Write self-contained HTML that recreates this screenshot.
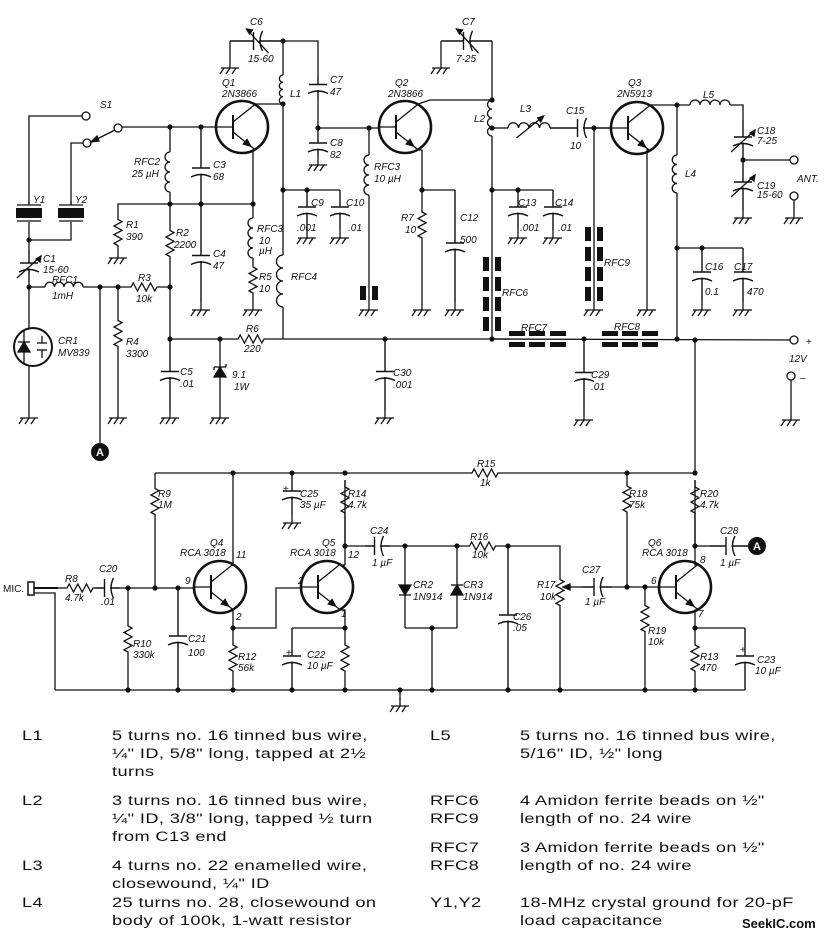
<!DOCTYPE html>
<html><head><meta charset="utf-8"><style>
html,body{margin:0;padding:0;background:#fff;}
svg{display:block;}
text{font-family:"Liberation Sans",sans-serif;fill:#111;}
.l{font-size:10px;font-style:italic;}
.g{font-size:14px;letter-spacing:0.3px;}
</style></head><body>
<svg id="s" width="834" height="946" viewBox="0 0 834 946" xmlns="http://www.w3.org/2000/svg">
<g id="d" stroke="#111" stroke-width="1.3" fill="none"></g>
<g class="l">
<text x="250" y="25">C6</text><text x="248" y="62">15-60</text>
<text x="222" y="86">Q1</text><text x="222" y="97">2N3866</text>
<text x="290" y="97">L1</text>
<text x="330" y="83">C7</text><text x="330" y="95">47</text>
<text x="330" y="146">C8</text><text x="330" y="158">82</text>
<text x="100" y="108">S1</text>
<text x="33" y="203">Y1</text><text x="75" y="203">Y2</text>
<text x="43" y="262">C1</text><text x="43" y="273">15-60</text>
<text x="52" y="283">RFC1</text><text x="52" y="299">1mH</text>
<text x="138" y="281">R3</text><text x="136" y="302">10k</text>
<text x="58" y="344">CR1</text><text x="58" y="356">MV839</text>
<text x="126" y="345">R4</text><text x="126" y="357">3300</text>
<text x="134" y="165">RFC2</text><text x="132" y="177">25 µH</text>
<text x="213" y="168">C3</text><text x="213" y="180">68</text>
<text x="126" y="228">R1</text><text x="126" y="240">390</text>
<text x="176" y="236">R2</text><text x="174" y="248">2200</text>
<text x="213" y="257">C4</text><text x="213" y="269">47</text>
<text x="257" y="232">RFC3</text><text x="259" y="244">10</text><text x="259" y="254">µH</text>
<text x="259" y="280">R5</text><text x="259" y="292">10</text>
<text x="291" y="280">RFC4</text>
<text x="246" y="332">R6</text><text x="244" y="352">220</text>
<text x="180" y="375">C5</text><text x="180" y="387">.01</text>
<text x="232" y="378">9.1</text><text x="234" y="390">1W</text>
<text x="311" y="206">C9</text><text x="297" y="231">.001</text>
<text x="346" y="206">C10</text><text x="348" y="231">.01</text>
<text x="374" y="170">RFC3</text><text x="374" y="182">10 µH</text>
<text x="393" y="376">C30</text><text x="393" y="388">.001</text>
<text x="395" y="86">Q2</text><text x="388" y="97">2N3866</text>
<text x="462" y="25">C7</text><text x="456" y="62">7-25</text>
<text x="474" y="122">L2</text>
<text x="520" y="112">L3</text><text x="566" y="114">C15</text><text x="570" y="149">10</text>
<text x="628" y="86">Q3</text><text x="617" y="97">2N5913</text>
<text x="703" y="98">L5</text>
<text x="757" y="134">C18</text><text x="757" y="144">7-25</text>
<text x="757" y="189">C19</text><text x="757" y="198">15-60</text>
<text x="797" y="182">ANT.</text>
<text x="685" y="177">L4</text>
<text x="401" y="221">R7</text><text x="405" y="233">10</text>
<text x="460" y="221">C12</text><text x="460" y="243">500</text>
<text x="518" y="206">C13</text><text x="520" y="231">.001</text>
<text x="555" y="206">C14</text><text x="558" y="231">.01</text>
<text x="502" y="296">RFC6</text><text x="604" y="266">RFC9</text>
<text x="521" y="331">RFC7</text><text x="614" y="330">RFC8</text>
<text x="591" y="378">C29</text><text x="591" y="390">.01</text>
<text x="705" y="270">C16</text><text x="705" y="295">0.1</text>
<text x="734" y="270">C17</text><text x="747" y="295">470</text>
<text x="806" y="345" style="font-style:normal">+</text><text x="789" y="362">12V</text><text x="800" y="381" style="font-style:normal">–</text>
<text x="158" y="497">R9</text><text x="158" y="508">1M</text>
<text x="300" y="497">C25</text><text x="300" y="508">35 µF</text>
<text x="348" y="497">R14</text><text x="348" y="508">4.7k</text>
<text x="477" y="467">R15</text><text x="480" y="486">1k</text>
<text x="629" y="497">R18</text><text x="629" y="508">75k</text>
<text x="700" y="497">R20</text><text x="700" y="508">4.7k</text>
<text x="370" y="534">C24</text><text x="372" y="566">1 µF</text>
<text x="470" y="540">R16</text><text x="472" y="558">10k</text>
<text x="720" y="534">C28</text><text x="720" y="566">1 µF</text>
<text x="322" y="546">Q5</text><text x="290" y="556">RCA 3018</text>
<text x="210" y="546">Q4</text><text x="180" y="556">RCA 3018</text>
<text x="648" y="546">Q6</text><text x="642" y="556">RCA 3018</text>
<text x="236" y="558">11</text><text x="348" y="558">12</text><text x="700" y="563">8</text>
<text x="185" y="584">9</text><text x="298" y="584">2</text><text x="651" y="584">6</text>
<text x="236" y="620">2</text><text x="341" y="617">1</text><text x="698" y="617">7</text>
<text x="65" y="582">R8</text><text x="65" y="601">4.7k</text>
<text x="99" y="572">C20</text><text x="101" y="605">.01</text>
<text x="133" y="647">R10</text><text x="133" y="658">330k</text>
<text x="188" y="642">C21</text><text x="188" y="656">100</text>
<text x="238" y="660">R12</text><text x="238" y="671">56k</text>
<text x="307" y="658">C22</text><text x="307" y="669">10 µF</text>
<text x="413" y="588">CR2</text><text x="413" y="600">1N914</text>
<text x="463" y="588">CR3</text><text x="463" y="600">1N914</text>
<text x="513" y="620">C26</text><text x="513" y="631">.05</text>
<text x="537" y="588">R17</text><text x="540" y="600">10k</text>
<text x="582" y="573">C27</text><text x="585" y="605">1 µF</text>
<text x="648" y="634">R19</text><text x="648" y="645">10k</text>
<text x="700" y="660">R13</text><text x="700" y="671">470</text>
<text x="757" y="663">C23</text><text x="755" y="674">10 µF</text>
<text x="283" y="492" style="font-style:normal">+</text><text x="286" y="656" style="font-style:normal">+</text><text x="740" y="653" style="font-style:normal">+</text>
<text x="3" y="592" style="font-style:normal">MIC.</text>
</g>
<g class="g" transform="scale(1.3,1)">
<text x="16.9" y="740">L1</text>
<text x="86.2" y="740">5 turns no. 16 tinned bus wire,</text>
<text x="86.2" y="758">¼" ID, 5/8" long, tapped at 2½</text>
<text x="86.2" y="776">turns</text>
<text x="16.9" y="805">L2</text>
<text x="86.2" y="805">3 turns no. 16 tinned bus wire,</text>
<text x="86.2" y="823">¼" ID, 3/8" long, tapped ½ turn</text>
<text x="86.2" y="841">from C13 end</text>
<text x="16.9" y="870">L3</text>
<text x="86.2" y="870">4 turns no. 22 enamelled wire,</text>
<text x="86.2" y="888">closewound, ¼" ID</text>
<text x="16.9" y="907">L4</text>
<text x="86.2" y="907">25 turns no. 28, closewound on</text>
<text x="86.2" y="925">body of 100k, 1-watt resistor</text>
<text x="330.8" y="740">L5</text>
<text x="400" y="740">5 turns no. 16 tinned bus wire,</text>
<text x="400" y="758">5/16" ID, ½" long</text>
<text x="330.8" y="805">RFC6</text><text x="330.8" y="823">RFC9</text>
<text x="400" y="805">4 Amidon ferrite beads on ½"</text>
<text x="400" y="823">length of no. 24 wire</text>
<text x="330.8" y="852">RFC7</text><text x="330.8" y="870">RFC8</text>
<text x="400" y="852">3 Amidon ferrite beads on ½"</text>
<text x="400" y="870">length of no. 24 wire</text>
<text x="330.8" y="907">Y1,Y2</text>
<text x="400" y="907">18-MHz crystal ground for 20-pF</text>
<text x="400" y="925">load capacitance</text>
</g>
<text x="742" y="928" style="font-size:13px;font-weight:bold">SeekIC.com</text>
<g font-family="Liberation Sans" font-weight="bold" font-size="11" text-anchor="middle">
<circle cx="100" cy="452" r="9" fill="#111"/><text x="100" y="456" style="fill:#fff">A</text>
<circle cx="757" cy="546" r="9" fill="#111"/><text x="757" y="550" style="fill:#fff">A</text>
</g>
</svg>
<script>
var d=document.getElementById('d'),NS='http://www.w3.org/2000/svg';
function el(t,a,p){var e=document.createElementNS(NS,t);for(var k in a)e.setAttribute(k,a[k]);(p||d).appendChild(e);return e;}
function W(){var p=[];for(var i=0;i<arguments.length;i+=2)p.push(arguments[i]+','+arguments[i+1]);el('polyline',{points:p.join(' ')});}
function dot(x,y){el('circle',{cx:x,cy:y,r:2.6,fill:'#111',stroke:'none'});}
function gnd(x,y){W(x,y-8,x,y);W(x-9,y,x+9,y);for(var i=0;i<3;i++)W(x-6+6*i,y,x-10+6*i,y+6);}
function term(x,y){el('circle',{cx:x,cy:y,r:4,fill:'#fff'});}
function G(x1,y1,x2,y2){var dx=x2-x1,dy=y2-y1,L=Math.hypot(dx,dy),a=Math.atan2(dy,dx)*180/Math.PI;return [el('g',{transform:'translate('+x1+','+y1+') rotate('+a+')'}),L];}
function R(x1,y1,x2,y2){var r=G(x1,y1,x2,y2),g=r[0],L=r[1],z=Math.min(26,L-4),s=(L-z)/2,p='M0,0 L'+s+',0';for(var i=0;i<6;i++)p+=' L'+(s+z*(i+0.5)/6)+','+(i%2?4:-4);p+=' L'+(s+z)+',0 L'+L+',0';el('path',{d:p},g);}
function C(x1,y1,x2,y2,v){var r=G(x1,y1,x2,y2),g=r[0],L=r[1],m=L/2;el('path',{d:'M0,0 L'+(m-3)+',0 M'+(m-3)+',-9 L'+(m-3)+',9 M'+(m+6)+',-10 Q'+(m+1)+',0 '+(m+6)+',10 M'+(m+2.5)+',0 L'+L+',0','stroke-width':1.4},g);if(v){el('path',{d:'M'+(m+12)+',12 L'+(m-10)+',-12'},g);el('path',{d:'M'+(m-10)+',-12 l6,1 l-3,4z',fill:'#111'},g);}}
function Lc(x1,y1,x2,y2,v,side){var r=G(x1,y1,x2,y2),g=r[0],L=r[1],n=4,s=L/n,p='M0,0',sg=side||-1;for(var i=0;i<n;i++)p+=' a'+(s/2)+','+(s/2)+' 0 0 '+(sg<0?1:0)+' '+s+',0';el('path',{d:p},g);if(v){el('path',{d:'M'+(L*0.2)+',10 L'+(L*0.85)+',-12'},g);el('path',{d:'M'+(L*0.85)+',-12 l-6,2 l3,4z',fill:'#111'},g);}}
function T(cx,cy,r){el('circle',{cx:cx,cy:cy,r:r,'stroke-width':2.6});el('line',{x1:cx-9,y1:cy-12,x2:cx-9,y2:cy+12,'stroke-width':2});W(cx-r,cy,cx-9,cy);W(cx-9,cy-5,cx+r*0.5,cy-r*0.87);W(cx-9,cy+5,cx+r*0.5,cy+r*0.87);var ex=cx+r*0.5,ey=cy+r*0.87,ux=(ex-cx+9)/Math.hypot(ex-cx+9,ey-cy-5),uy=(ey-cy-5)/Math.hypot(ex-cx+9,ey-cy-5);var tx=cx-9+(ex-cx+9)*0.8,ty=cy+5+(ey-cy-5)*0.8;el('path',{d:'M'+tx+','+ty+' L'+(tx-7*ux-3*uy)+','+(ty-7*uy+3*ux)+' L'+(tx-7*ux+3*uy)+','+(ty-7*uy-3*ux)+'z',fill:'#111'});}
function beadV(x,y){el('rect',{x:x-9,y:y-7,width:6,height:14,fill:'#111',stroke:'none'});el('rect',{x:x+3,y:y-7,width:6,height:14,fill:'#111',stroke:'none'});}
function beadH(x,y){el('rect',{x:x-8,y:y-8,width:16,height:5,fill:'#111',stroke:'none'});el('rect',{x:x-8,y:y+3,width:16,height:5,fill:'#111',stroke:'none'});}
function diode(x,y,up){var s=up?-1:1;el('path',{d:'M'+(x-6)+','+(y-5*s)+' L'+(x+6)+','+(y-5*s)+' L'+x+','+(y+5*s)+'z',fill:'#111'});W(x-6,y+5*s,x+6,y+5*s);}
function xtal(x,y){W(x,y-12,x,y-9);W(x-12,y-8,x+12,y-8);el('rect',{x:x-13,y:y-5,width:26,height:10,fill:'#111',stroke:'none'});W(x-12,y+8,x+12,y+8);W(x,y+9,x,y+12);}
// ===== top-left =====
C(230,41,283,41,1);W(230,41,230,60);gnd(230,68);dot(283,41);
W(283,41,283,75);Lc(283,75,283,104,0,1);W(283,104,283,255);dot(283,104);W(255,104,283,104);
Lc(283,255,283,307,0,1);W(283,307,283,339);dot(283,190);
W(283,41,318,41,318,75);C(318,75,318,100);W(318,100,318,135);C(318,135,318,157);gnd(318,165);dot(318,128);W(318,128,379,128);
dot(369,128);W(369,128,369,155);Lc(369,155,369,195,0,1);W(369,195,369,302);beadV(369,293);gnd(369,310);
W(283,190,340,190);dot(307,190);C(307,190,307,230);gnd(307,238);C(340,190,340,230);gnd(340,238);
T(242,127,26);W(122,127,216,127);dot(170,127);dot(201,127);
W(29,205,29,116,82,116);term(86,116);W(71,205,71,143,83,143);term(87,143);term(118,128);W(115,130,93,141);el('path',{d:'M91,142 l6,-6 l2,5z',fill:'#111'});
xtal(29,213);xtal(71,213);W(29,225,29,250);dot(29,240);W(71,225,71,240,29,240);
C(29,250,29,282,1);W(29,282,29,328);dot(29,287);W(29,287,45,287);Lc(45,287,83,287);W(83,287,118,287);R(118,287,170,287);dot(100,287);dot(118,287);dot(170,287);
el('circle',{cx:33,cy:347,r:19,'stroke-width':2});diode(24,347,1);W(24,331,24,363);W(37,343,47,343);W(37,350,47,350);W(42,336,42,343);W(42,350,42,358);
W(29,366,29,410);gnd(29,418);
R(118,287,118,380);W(118,380,118,410);gnd(118,418);W(100,287,100,443);
W(170,127,170,152);Lc(170,152,170,192,0,1);W(170,192,170,225);R(170,225,170,262);W(170,262,170,339);dot(170,204);dot(170,339);
W(170,204,118,204,118,215);R(118,215,118,250);gnd(118,258);
C(201,127,201,215);C(201,215,201,302);gnd(201,310);dot(201,204);W(170,204,253,204);dot(253,204);
W(255,150,253,150,253,218);Lc(253,218,253,258,0,1);W(253,258,253,265);R(253,265,253,295);W(253,295,253,302);gnd(253,310);
W(170,339,232,339);R(232,339,270,339);W(270,339,510,339);dot(220,339);dot(385,339);dot(492,339);
W(220,339,220,410);diode(220,372,1);W(214,367,214,370);W(226,367,226,364);gnd(220,418);
C(170,339,170,410);gnd(170,418);C(385,339,385,410);gnd(385,418);
// ===== top-right =====
T(405,127,26);W(418,104,430,100,492,100);W(418,150,422,150,422,205);R(422,205,422,245);W(422,245,422,302);gnd(422,310);dot(422,190);
W(422,190,455,190);C(455,190,455,302);gnd(455,310);
W(441,60,441,41);C(441,41,492,41,1);W(492,41,492,100);gnd(441,68);
Lc(492,100,492,136,0,1);W(492,136,492,339);dot(492,100);dot(492,128);dot(492,190);
beadV(492,264);beadV(492,284);beadV(492,304);beadV(492,324);
W(492,190,553,190);dot(518,190);C(518,190,518,230);gnd(518,238);C(553,190,553,230);gnd(553,238);
W(492,128,508,128);Lc(508,128,550,128,1);C(550,128,611,128);dot(594,128);
W(594,128,594,302);beadV(594,234);beadV(594,254);beadV(594,274);beadV(594,294);gnd(594,310);
T(637,128,26);W(650,105,690,105);Lc(690,105,730,105);W(730,105,743,105,743,120);dot(677,105);
C(743,120,743,160,1);W(743,160,790,160);term(794,160);dot(743,160);C(743,160,743,210,1);gnd(743,218);
term(794,196);W(794,200,794,210);gnd(794,218);
W(650,150,647,150,647,302);gnd(647,310);
W(677,105,677,155);Lc(677,155,677,193,0,1);W(677,193,677,339);dot(677,248);
W(677,248,743,248);dot(702,248);C(702,248,702,302);gnd(702,310);C(743,248,743,302);gnd(743,310);
W(492,339,790,340);term(794,340);dot(584,339);dot(677,339);dot(695,340);
beadH(517,339);beadH(537,339);beadH(558,339);beadH(610,339);beadH(630,339);beadH(650,339);
C(584,339,584,412);gnd(584,420);term(791,376);W(791,380,791,412);gnd(791,420);
W(695,340,695,473);
// ===== bottom =====
W(155,473,470,473);R(470,473,500,473);W(500,473,695,473);dot(233,473);dot(292,473);dot(345,473);dot(627,473);dot(695,473);
R(155,473,155,530);W(155,530,155,588);
el('rect',{x:28,y:582,width:6,height:13,fill:'#fff','stroke-width':1.5});
el('line',{x1:34,y1:588,x2:58,y2:588,'stroke-width':2});W(34,593,55,593,55,690);
W(58,588,65,588);R(65,588,95,588);C(95,588,120,588);W(120,588,194,588);dot(128,588);dot(155,588);dot(178,588);
W(55,690,745,690);
R(128,588,128,690);C(178,588,178,690);
T(220,587,26);W(233,565,233,473);W(233,610,233,640);R(233,640,233,676);W(233,676,233,690);dot(233,628);W(233,628,276,628,276,588,301,588);
T(327,587,26);W(340,565,345,565,345,480);R(345,480,345,520);W(345,520,345,546);dot(345,546);
W(340,610,345,610,345,640);R(345,640,345,676);W(345,676,345,690);dot(345,628);W(292,628,345,628);C(292,628,292,690);
C(292,473,292,515);gnd(292,523);
W(345,546,365,546);C(365,546,390,546);W(390,546,465,546);R(465,546,500,546);W(500,546,560,546,560,575);R(560,575,560,610);W(560,610,560,690);
dot(405,546);dot(457,546);dot(508,546);
W(405,546,405,628);diode(405,590,0);W(457,546,457,628);diode(457,590,1);W(405,628,457,628);dot(432,628);W(432,628,432,690);
C(508,546,508,690);
el('path',{d:'M563,587 l7,-3 l0,6z',fill:'#111'});W(570,587,582,587);C(582,587,612,587);W(612,587,660,587);dot(627,587);dot(645,587);
R(627,473,627,525);W(627,525,627,587);R(645,587,645,650);W(645,650,645,690);
T(685,587,26);W(698,565,695,565,695,480);R(695,480,695,520);W(695,520,695,546);dot(695,546);W(695,546,710,546);C(710,546,748,546);
W(698,610,695,610,695,640);R(695,640,695,676);W(695,676,695,690);dot(695,628);W(695,628,745,628);C(745,628,745,690);
[128,178,233,292,345,400,432,508,560,645,695].forEach(function(x){dot(x,690);});
W(400,690,400,700);gnd(400,706);
</script>
</body></html>
